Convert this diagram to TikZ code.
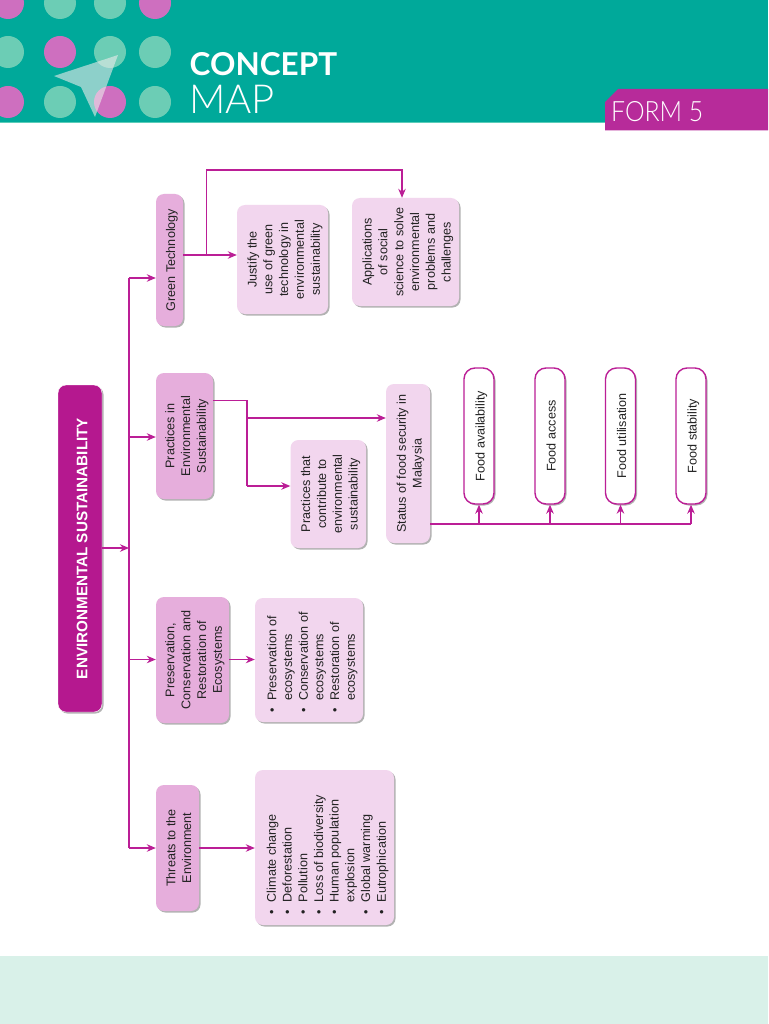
\documentclass[tikz,border=0pt]{standalone}
\usepackage{fontspec}
\usepackage{graphicx}
\setmainfont{Liberation Sans}
\newfontfamily\titlefont{Lato}
\newfontfamily\titlelight{Lato Light}
\newfontfamily\formfont[FakeStretch=.885]{Lato Light}
\usetikzlibrary{arrows.meta,shadows,calc}
\definecolor{teal1}{HTML}{00A99A}
\definecolor{tealline}{HTML}{5CCDB9}
\definecolor{dotteal}{HTML}{6CCDB5}
\definecolor{dotpink}{HTML}{CE6FBF}
\definecolor{tag}{HTML}{B72B9A}
\definecolor{band}{HTML}{D9F1E9}
\definecolor{mainc}{HTML}{B5188F}
\definecolor{midc}{HTML}{E6AEDC}
\definecolor{lightc}{HTML}{F2D6EE}
\definecolor{linec}{HTML}{BB1E96}
\definecolor{inkc}{HTML}{222222}
\tikzset{
  shad/.style={drop shadow={shadow xshift=1.5pt,shadow yshift=-1.5pt,fill=black!55,opacity=.55}},
  boxbase/.style={inner sep=0pt,rounded corners=8pt,text=inkc,shad},
  mainbox/.style={boxbase,fill=mainc,draw=white,line width=.4pt,text=white},
  midbox/.style={boxbase,fill=midc},
  lightbox/.style={boxbase,fill=lightc},
  foodbox/.style={boxbase,fill=white,draw=linec,line width=1.4pt,rounded corners=11pt},
  conn/.style={draw=linec,line width=1.15pt},
  arr/.style={conn,-{Stealth[length=9pt,width=7.5pt]}},
  dott/.style={fill=dotteal},
  dotp/.style={fill=dotpink}
}
\newcommand{\bx}[7]{\node[#1,minimum width=#5pt-#3pt,minimum height=#6pt-#4pt] (#2) at ({(#3+#5)/2},{(#4+#6)/2}) {#7};}
\newcommand{\rt}[1]{\hspace{5pt}\rotatebox{90}{\fontsize{12.6}{15.8}\selectfont\begin{tabular}{@{}c@{}}#1\end{tabular}}}
\newcommand{\rl}[3]{\hspace{#1}\rotatebox{90}{\fontsize{12.6}{15.7}\selectfont\begin{tabular}{@{}l@{\hspace{7.5pt}}l@{}}#3\end{tabular}\hspace{#2}}}
\newcommand{\bl}{\textbullet}
\begin{document}
\begin{tikzpicture}[x=1pt,y=-1pt]
\useasboundingbox (0,0) rectangle (768,1024);
\fill[white] (0,0) rectangle (768,1024);
% header
\fill[teal1] (0,0) rectangle (768,122);
\fill[tealline] (0,122) rectangle (768,123.5);
\fill[band] (0,956) rectangle (768,1024);
\foreach \x/\y/\s in {8/3/dotp,60/3/dott,110/3/dott,155/3/dotp,
  8/52/dott,60/52/dotp,110/52/dott,155/52/dott,
  8/102/dotp,60/102/dott,110/102/dotp,155/102/dott}
  \fill[\s] (\x,\y) circle (16);
\fill[black!8,opacity=.6] (118,55) -- (54,76) -- (81,87) -- (95,117) -- cycle;
\node[anchor=base west,inner sep=0pt,text=white,font=\titlefont\bfseries\fontsize{31.5}{32}\selectfont] (concept) at (189.5,76) {CONCEPT};
\node[anchor=base west,inner sep=0pt,text=white,font=\titlelight\fontsize{40}{40}\selectfont] (mapt) at (189,113.5) {MAP};
\fill[tag] (605,102) -- (618,89) -- (768,89) -- (768,130.5) -- (605,130.5) -- cycle;
\node[anchor=base west,inner sep=0pt,text=white,font=\formfont\fontsize{28}{28}\selectfont] (form) at (611,122) {FORM 5};
% boxes
\bx{mainbox}{main}{58}{385}{102}{712}{\hspace{4pt}\rotatebox{90}{\fontsize{15.25}{17}\selectfont\bfseries ENVIRONMENTAL SUSTAINABILITY}}
\bx{midbox}{gt}{156}{194}{183}{326}{\rt{Green Technology}}
\bx{lightbox}{just}{237}{205}{328}{314}{\rt{Justify the\\use of green\\technology in\\environmental\\sustainability}}
\bx{lightbox}{apps}{352}{198}{459}{306}{\rt{Applications\\of social\\science to solve\\environmental\\problems and\\challenges}}
\bx{midbox}{prac}{156}{373}{213}{499}{\rt{Practices in\\Environmental\\Sustainability}}
\bx{lightbox}{ptc}{290.5}{440}{366}{548}{\rt{Practices that\\contribute to\\environmental\\sustainability}}
\bx{lightbox}{status}{386}{384}{430}{543}{\rt{Status of food security in\\Malaysia}}
\bx{foodbox}{fa}{464}{368}{494}{504}{\rt{Food availability}}
\bx{foodbox}{fb}{535}{368}{565}{504}{\rt{Food access}}
\bx{foodbox}{fc}{605.5}{368}{635.5}{504}{\rt{Food utilisation}}
\bx{foodbox}{fd}{676}{368}{706}{504}{\rt{Food stability}}
\bx{midbox}{pres}{156}{597}{229}{723}{\rt{Preservation,\\Conservation and\\Restoration of\\Ecosystems}}
\bx{lightbox}{plist}{255}{598}{363}{722}{\rl{7pt}{5pt}{\bl&Preservation of\\&ecosystems\\\bl&Conservation of\\&ecosystems\\\bl&Restoration of\\&ecosystems}}
\bx{midbox}{thr}{156}{785}{199}{911}{\rt{Threats to the\\Environment}}
\bx{lightbox}{tlist}{255}{770}{394}{925}{\rl{6.5pt}{14pt}{\bl&Climate change\\\bl&Deforestation\\\bl&Pollution\\\bl&Loss of biodiversity\\\bl&Human population\\&explosion\\\bl&Global warming\\\bl&Eutrophication}}
% connector waypoints
\coordinate (tm) at (129,548);
\coordinate (t1) at (129,278);
\coordinate (t2) at (129,437);
\coordinate (t3) at (129,659.5);
\coordinate (t4) at (129,848);
\coordinate (g1) at (206.5,255);
\coordinate (g2) at (206.5,170);
\coordinate (p1) at (247,400.5);
\coordinate (p2) at (247,418);
\coordinate (p3) at (247,486);
\coordinate (s1) at (430,524);
\coordinate (s2) at (691,524);
% connectors
\draw[arr] (main.east |- tm) -- (tm);
\draw[conn] (t1) -- (t4);
\draw[arr] (t1) -- (gt.west |- t1);
\draw[arr] (t2) -- (prac.west |- t2);
\draw[arr] (t3) -- (pres.west |- t3);
\draw[arr] (t4) -- (thr.west |- t4);
\draw[arr] (gt.east |- g1) -- (just.west |- g1);
\draw[arr] (g1) -- (g2) -| ($(apps.north)+(-3.5,0)$);
\draw[conn] (prac.east |- p1) -- (p1) -- (p3);
\draw[arr] (p2) -- (status.west |- p2);
\draw[arr] (p3) -- (ptc.west |- p3);
\draw[conn] (status.east |- s1) -- (s2);
\draw[arr] (fa.south |- s1) -- (fa.south);
\draw[arr] (fb.south |- s1) -- (fb.south);
\draw[arr] (fc.south |- s1) -- (fc.south);
\draw[arr] (fd.south |- s1) -- (fd.south);
\draw[arr] (pres.east |- t3) -- (plist.west |- t3);
\draw[arr] (thr.east |- t4) -- (tlist.west |- t4);
\end{tikzpicture}
\end{document}
